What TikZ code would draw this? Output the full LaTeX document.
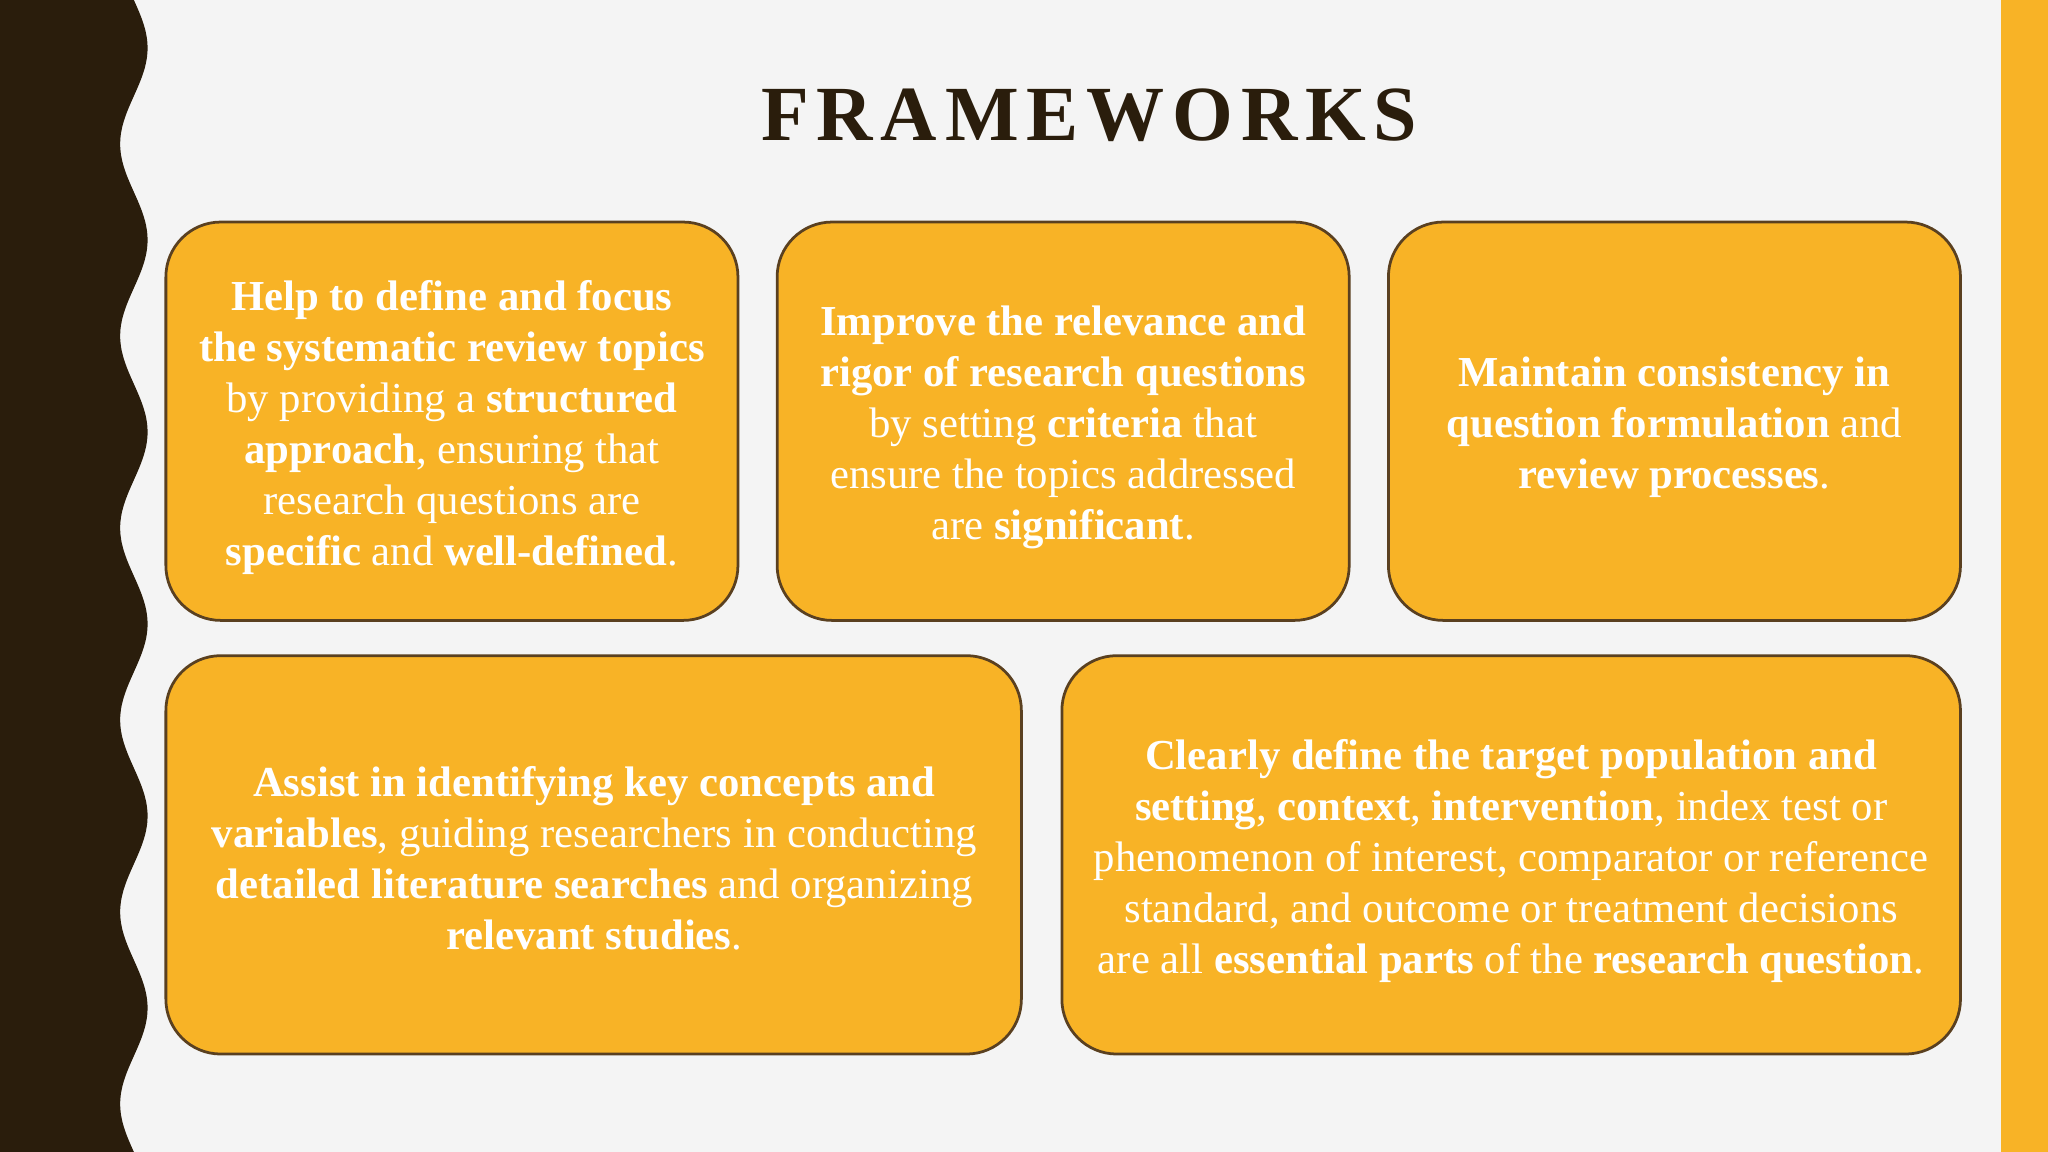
\documentclass[tikz,border=0pt]{standalone}
\usepackage{fontspec}
\setmainfont{Liberation Serif}
\newfontfamily\titlefont[LetterSpace=10]{Liberation Serif}
\usetikzlibrary{positioning}
\definecolor{bgGray}{HTML}{F4F4F4}
\definecolor{darkBand}{HTML}{2A1D0C}
\definecolor{boxOrange}{HTML}{F8B326}
\definecolor{boxEdge}{HTML}{5A4020}
\tikzset{
    infobox/.style={draw=boxEdge, fill=boxOrange, line width=0.6pt, rounded corners=0.42cm},
    infotext/.style={text=white, align=center, font=\fontsize{9.3}{11.1}\selectfont, inner sep=0pt}
}
\begin{document}
\begin{tikzpicture}[x=0.01cm,y=-0.01cm]
    \useasboundingbox (0,0) rectangle (1568,882);
    \fill[bgGray] (0,0) rectangle (1568,882);
    \fill[boxOrange] (1532,0) rectangle (1568,882);
    % wavy left band
    \fill[darkBand] (0,0) -- plot[variable=\t, domain=0:882, samples=120, smooth] ({102.5+10.5*sin(\t/147*360)}, \t) -- (0,882) -- cycle;
    \node (title) at (837,88) {\titlefont\fontsize{17}{19}\selectfont\color{darkBand}\textbf{FRAMEWORKS}};
    % boxes
    \draw[infobox] (127,170) rectangle (565,475);
    \draw[infobox] (595,170) rectangle (1033,475);
    \draw[infobox] (1063,170) rectangle (1501,475);
    \draw[infobox] (127,502) rectangle (782,807);
    \draw[infobox] (813,502) rectangle (1501,807);
    \node[infotext] (helptext) at (346,327) {\textbf{Help to define and focus}\\\textbf{the systematic review topics}\\by providing a \textbf{structured}\\\textbf{approach}, ensuring that\\research questions are\\\textbf{specific} and \textbf{well-defined}.};
    \node[infotext] (improvetext) at (814,327) {\textbf{Improve the relevance and}\\\textbf{rigor of research questions}\\by setting \textbf{criteria} that\\ensure the topics addressed\\are \textbf{significant}.};
    \node[infotext] (maintaintext) at (1282,327) {\textbf{Maintain consistency in}\\\textbf{question formulation} and\\\textbf{review processes}.};
    \node[infotext] (assisttext) at (455,657) {\textbf{Assist in identifying key concepts and}\\\textbf{variables}, guiding researchers in conducting\\\textbf{detailed literature searches} and organizing\\\textbf{relevant studies}.};
    \node[infotext] (definetext) at (1157,659) {\textbf{Clearly define the target population and}\\\textbf{setting}, \textbf{context}, \textbf{intervention}, index test or\\phenomenon of interest, comparator or reference\\standard, and outcome or treatment decisions\\are all \textbf{essential parts} of the \textbf{research question}.};
\end{tikzpicture}
\end{document}
